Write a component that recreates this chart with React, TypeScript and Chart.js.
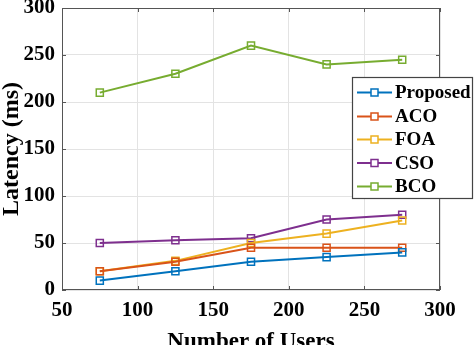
import React, { useEffect, useRef } from "react";
import { Chart, registerables } from "chart.js";

Chart.register(...registerables);

const users = [75, 125, 175, 225, 275];
const proposed = [10, 20, 30, 35, 40];
const aco = [20, 30, 45, 45, 45];
const foa = [20, 31, 50, 60, 74];
const cso = [50, 53, 55, 75, 80];
const bco = [210, 230, 260, 240, 245];
const seriesNames = ["Proposed", "ACO", "FOA", "CSO", "BCO"];
const seriesColors = ["#0072BD", "#D95319", "#EDB120", "#7E2F8E", "#77AC30"];
const xTicks = [50, 100, 150, 200, 250, 300];
const yTicks = [0, 50, 100, 150, 200, 250, 300];

const FONT = "'Liberation Serif', 'Times New Roman', serif";

const framePlugin = {
  id: "frame",
  afterDatasetsDraw(chart: any) {
    const { ctx, chartArea } = chart;
    const { left, right, top, bottom } = chartArea;
    const xs = chart.scales.x;
    const ys = chart.scales.y;
    ctx.save();
    ctx.strokeStyle = "#555555";
    ctx.lineWidth = 1;
    ctx.strokeRect(left + 0.5, top + 0.5, right - left - 1, bottom - top - 1);
    ctx.beginPath();
    const tl = 4;
    xTicks.forEach((v) => {
      const px = Math.round(xs.getPixelForValue(v)) + 0.5;
      ctx.moveTo(px, bottom);
      ctx.lineTo(px, bottom - tl);
      ctx.moveTo(px, top);
      ctx.lineTo(px, top + tl);
    });
    yTicks.forEach((v) => {
      const py = Math.round(ys.getPixelForValue(v)) + 0.5;
      ctx.moveTo(left, py);
      ctx.lineTo(left + tl, py);
      ctx.moveTo(right, py);
      ctx.lineTo(right - tl, py);
    });
    ctx.stroke();
    ctx.restore();
  },
  afterDraw(chart: any) {
    const { ctx } = chart;
    ctx.save();
    const bx = 352.5, by = 77.5, bw = 120, bh = 121;
    ctx.fillStyle = "#ffffff";
    ctx.fillRect(bx, by, bw, bh);
    ctx.strokeStyle = "#444444";
    ctx.lineWidth = 1.2;
    ctx.strokeRect(bx, by, bw, bh);
    const rows = [92.5, 116.5, 139.5, 163, 186.5];
    ctx.font = `bold 19px ${FONT}`;
    ctx.textBaseline = "middle";
    ctx.textAlign = "left";
    seriesNames.forEach((name, i) => {
      const y = rows[i];
      ctx.strokeStyle = seriesColors[i];
      ctx.lineWidth = 2;
      ctx.beginPath();
      ctx.moveTo(357, y);
      ctx.lineTo(392, y);
      ctx.stroke();
      ctx.lineWidth = 1.5;
      ctx.fillStyle = "#ffffff";
      ctx.fillRect(371, y - 3.5, 7, 7);
      ctx.strokeRect(371, y - 3.5, 7, 7);
      ctx.fillStyle = "#000000";
      ctx.fillText(name, 395, y + 1);
    });
    ctx.restore();
  },
};

export default function App() {
  const ref = useRef<HTMLCanvasElement | null>(null);
  useEffect(() => {
    document.body.style.margin = "0";
    const seriesData = [proposed, aco, foa, cso, bco];
    const chart = new Chart(ref.current as HTMLCanvasElement, {
      type: "line",
      data: {
        datasets: seriesNames.map((name, i) => ({
          label: name,
          data: users.map((u, j) => ({ x: u, y: seriesData[i][j] })),
          borderColor: seriesColors[i],
          backgroundColor: "transparent",
          pointBackgroundColor: "transparent",
          pointBorderColor: seriesColors[i],
          pointStyle: "rect",
          pointRadius: 5,
          pointBorderWidth: 1.5,
          borderWidth: 2,
          tension: 0,
        })),
      },
      options: {
        animation: false,
        responsive: false,
        maintainAspectRatio: false,
        layout: { padding: { left: 0, top: 8, right: 34, bottom: 0 } },
        plugins: { legend: { display: false }, tooltip: { enabled: false } },
        scales: {
          x: {
            type: "linear",
            min: 50,
            max: 300,
            afterBuildTicks: (s: any) => {
              s.ticks = xTicks.map((v) => ({ value: v }));
            },
            afterFit: (s: any) => {
              s.height = 55;
              s.paddingLeft = 0;
              s.paddingRight = 0;
            },
            grid: { color: "#e3e3e3", drawTicks: false },
            border: { display: false },
            ticks: {
              color: "#000",
              padding: 8,
              font: { family: FONT, size: 21, weight: "bold" },
            },
            title: {
              display: true,
              text: "Number of Users",
              color: "#000",
              font: { family: FONT, size: 23, weight: "bold", lineHeight: 1 },
              padding: { top: 0, bottom: -9 },
            },
          },
          y: {
            type: "linear",
            min: 0,
            max: 300,
            afterBuildTicks: (s: any) => {
              s.ticks = yTicks.map((v) => ({ value: v }));
            },
            afterFit: (s: any) => {
              s.width = 62;
              s.paddingTop = 0;
              s.paddingBottom = 0;
            },
            grid: { color: "#e3e3e3", drawTicks: false },
            border: { display: false },
            ticks: {
              color: "#000",
              padding: 7,
              font: { family: FONT, size: 21, weight: "bold" },
            },
            title: {
              display: true,
              text: "Latency (ms)",
              color: "#000",
              font: { family: FONT, size: 24, weight: "bold", lineHeight: 1 },
              padding: { top: 0, bottom: 0 },
            },
          },
        },
      },
      plugins: [framePlugin],
    });
    return () => chart.destroy();
  }, []);
  return (
    <div style={{ position: "absolute", left: 0, top: 0, width: 474, height: 345 }}>
      <canvas ref={ref} width={474} height={345} style={{ display: "block" }} />
    </div>
  );
}
